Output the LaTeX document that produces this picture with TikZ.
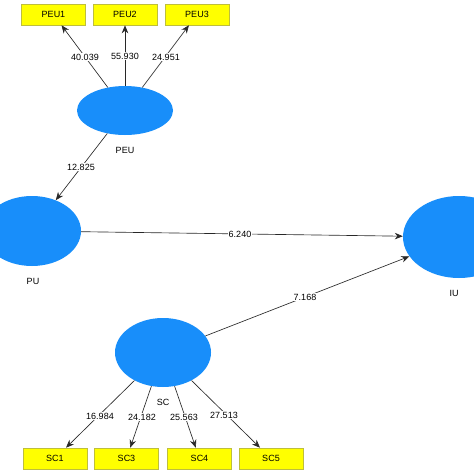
\documentclass[tikz,border=0pt]{standalone}
\usepackage{fontspec}
\setmainfont{Liberation Sans}
\usetikzlibrary{shapes.geometric,arrows.meta}
\definecolor{lvblue}{RGB}{24,142,250}
\definecolor{ind}{RGB}{255,255,0}
\definecolor{indborder}{RGB}{190,190,60}
\definecolor{edgecol}{RGB}{40,40,40}
\tikzset{
  latent/.style={ellipse, fill=lvblue, draw=none, inner sep=0pt},
  indbox/.style={rectangle, fill=ind, draw=indborder, line width=0.6pt, minimum width=64pt, minimum height=21pt, inner sep=0pt, font=\fontsize{9}{10}\selectfont},
  lbl/.style={font=\fontsize{9}{10}\selectfont, inner sep=1pt},
  elbl/.style={font=\fontsize{9}{10}\selectfont, fill=white, inner sep=0.8pt},
  conn/.style={draw=edgecol, line width=0.65pt, -{Stealth[length=8pt,width=6.5pt]}}
}
\begin{document}
\begin{tikzpicture}[x=1pt,y=-1pt]
\useasboundingbox (0,0) rectangle (474,474);
\clip (0,0) rectangle (474,474);
\fill[white] (0,0) rectangle (474,474);
% indicators
\node[indbox] (peu1) at (53.5,14.5) {PEU1};
\node[indbox] (peu2) at (125,14.5) {PEU2};
\node[indbox] (peu3) at (197,14.5) {PEU3};
\node[indbox] (sc1) at (55,458.5) {SC1};
\node[indbox] (sc3) at (126.5,458.5) {SC3};
\node[indbox] (sc4) at (199.5,458.5) {SC4};
\node[indbox] (sc5) at (271,458.5) {SC5};
% latent variables
\node[latent, minimum width=96pt, minimum height=49pt] (peu) at (125,110.5) {};
\node[latent, minimum width=98pt, minimum height=70pt] (pu) at (32,231) {};
\node[latent, minimum width=112pt, minimum height=82pt] (iu) at (459,237) {};
\node[latent, minimum width=96pt, minimum height=69pt] (sc) at (163,352.5) {};
% names
\node[lbl] (peulbl) at (125,150) {PEU};
\node[lbl] (pulbl) at (33,281) {PU};
\node[lbl] (iulbl) at (454,293) {IU};
\node[lbl] (sclbl) at (163,402) {SC};
% connectors
\draw[conn] (peu) -- (peu1);
\draw[conn] (peu) -- (peu2);
\draw[conn] (peu) -- (peu3);
\draw[conn] (peu) -- (pu);
\draw[conn] (pu) -- (iu);
\draw[conn] (sc) -- (iu);
\draw[conn] (sc) -- (sc1);
\draw[conn] (sc) -- (sc3);
\draw[conn] (sc) -- (sc4);
\draw[conn] (sc) -- (sc5);
% edge labels
\node[elbl] (l1) at (85,57) {40.039};
\node[elbl] (l2) at (125,56) {55.930};
\node[elbl] (l3) at (166,57) {24.951};
\node[elbl] (l4) at (81,167) {12.825};
\node[elbl] (l5) at (240,234) {6.240};
\node[elbl] (l6) at (305,297) {7.168};
\node[elbl] (l7) at (100,416) {16.984};
\node[elbl] (l8) at (142,417) {24.182};
\node[elbl] (l9) at (184,417) {25.563};
\node[elbl] (l10) at (224,415) {27.513};
\end{tikzpicture}
\end{document}
